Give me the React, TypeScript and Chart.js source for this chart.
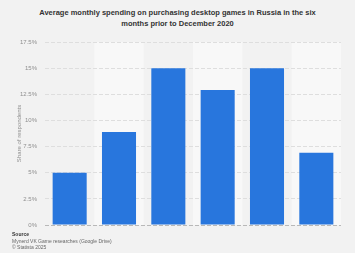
import React, { useEffect, useRef } from "react";
import { Chart, registerables } from "chart.js";

Chart.register(...registerables);

const titleLines = [
  "Average monthly spending on purchasing desktop games in Russia in the six",
  "months prior to December 2020",
];
const categories = ["July 2020", "August 2020", "September 2020", "October 2020", "November 2020", "December 2020"];
const shareValues = [5, 8.9, 15, 12.9, 15, 6.9];
const yTickValues = [0, 2.5, 5, 7.5, 10, 12.5, 15, 17.5];
const yTickLabels = ["0%", "2.5%", "5%", "7.5%", "10%", "12.5%", "15%", "17.5%"];
const yAxisTitle = "Share of respondents";
const sourceLines = ["Source", "Mynerd VK Game researches (Google Drive)", "© Statista 2025"];

const FONT = "'Liberation Sans', Arial, sans-serif";

const bandPlugin = {
  id: "bands",
  beforeDraw(chart: any) {
    const { ctx, chartArea } = chart;
    const x = chart.scales.x;
    const n = categories.length;
    const w = (chartArea.right - chartArea.left) / n;
    ctx.save();
    ctx.fillStyle = "#f8f8f8";
    for (let i = 1; i < n; i += 2) {
      const cx = x.getPixelForValue(i);
      ctx.fillRect(cx - w / 2, chartArea.top, w, chartArea.bottom - chartArea.top);
    }
    ctx.restore();
  },
};

export default function App() {
  const ref = useRef<HTMLCanvasElement>(null);
  useEffect(() => {
    const prev = document.body.style.margin;
    document.body.style.margin = "0";
    const chart = new Chart(ref.current!, {
      type: "bar",
      data: {
        labels: categories,
        datasets: [
          {
            data: shareValues,
            backgroundColor: "#2876dd",
            borderWidth: 0,
            barPercentage: 0.69,
            categoryPercentage: 1,
          },
        ],
      },
      options: {
        responsive: false,
        animation: false,
        layout: { padding: { left: 0, right: 14, top: 42, bottom: 28 } },
        plugins: { legend: { display: false }, tooltip: { enabled: false }, title: { display: false } },
        scales: {
          x: {
            display: false,
            offset: true,
            grid: { display: false },
          },
          y: {
            min: 0,
            max: 17.5,
            afterFit(scale: any) {
              scale.width = 45;
            },
            afterBuildTicks(scale: any) {
              scale.ticks = yTickValues.map((v) => ({ value: v }));
            },
            border: { display: false, dash: [4, 2] },
            grid: {
              drawTicks: false,
              color: (c: any) => (c.tick && c.tick.value === 0 ? "#b8b8b8" : "#dedede"),
              lineWidth: 1,
            },
            ticks: {
              padding: 8,
              color: "#8f8f8f",
              font: { family: FONT, size: 6 },
              callback: (_v: any, i: number) => yTickLabels[i],
            },
            title: {
              display: true,
              text: yAxisTitle,
              color: "#8f8f8f",
              font: { family: FONT, size: 6 },
              padding: { top: 16, bottom: 0 },
            },
          },
        },
      },
      plugins: [bandPlugin],
    });
    return () => {
      chart.destroy();
      document.body.style.margin = prev;
    };
  }, []);

  return (
    <div style={{ position: "relative", width: 355, height: 253, background: "#f2f2f2", fontFamily: FONT }}>
      <div
        style={{
          position: "absolute",
          top: 6.5,
          left: 0,
          width: 355,
          textAlign: "center",
          fontWeight: "bold",
          fontSize: 7.5,
          lineHeight: "11.4px",
          color: "#333333",
        }}
      >
        {titleLines.map((l, i) => (
          <div key={i}>{l}</div>
        ))}
      </div>
      <canvas ref={ref} width={355} height={253} style={{ position: "absolute", top: 0, left: 0 }} />
      <div style={{ position: "absolute", top: 231, left: 12, fontSize: 5, lineHeight: "6.5px", color: "#666" }}>
        {sourceLines.map((l, i) => (
          <div key={i} style={i === 0 ? { fontWeight: "bold", color: "#333" } : {}}>
            {l}
          </div>
        ))}
      </div>
    </div>
  );
}
